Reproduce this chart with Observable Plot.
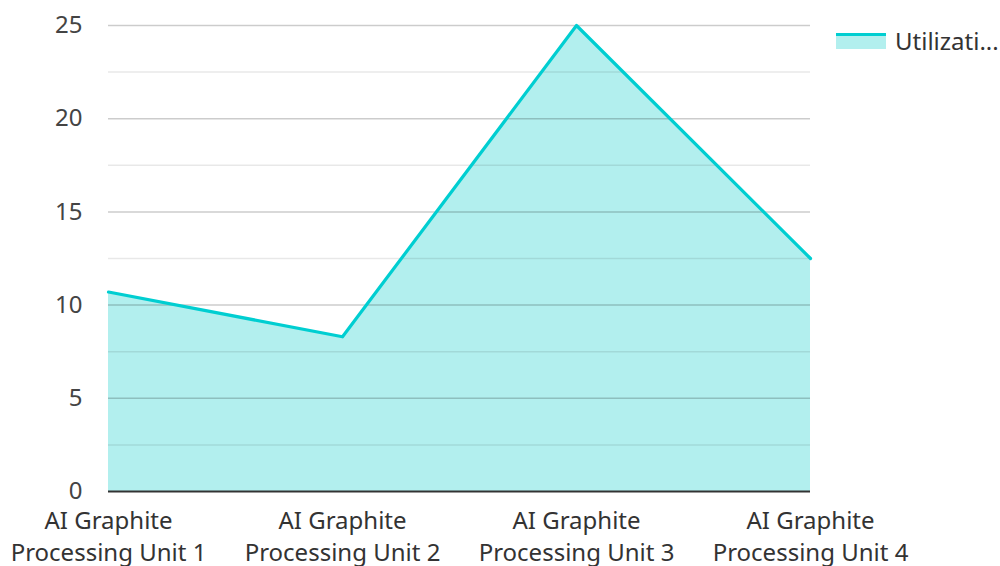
<!DOCTYPE html>
<html>
<head>
<meta charset="utf-8">
<script src="https://cdn.jsdelivr.net/npm/d3@7"></script>
<script src="https://cdn.jsdelivr.net/npm/@observablehq/plot@0.6"></script>
<style>
  html, body { margin: 0; padding: 0; background: #fff; }
  body { width: 1000px; height: 566px; overflow: hidden; position: relative; font-family: "Noto Sans", sans-serif; }
  #legend { position: absolute; left: 836px; top: 24px; display: flex; align-items: center; font-size: 24px; color: #333; }
  #legend .sw { width: 50px; height: 13px; background: #b2efee; border-top: 3px solid #00ced1; margin-right: 9px; }
</style>
</head>
<body>
<div id="chart"></div>
<div id="legend"><span class="sw"></span><span>Utilizati...</span></div>
<script>
const categories = ["AI Graphite\nProcessing Unit 1", "AI Graphite\nProcessing Unit 2", "AI Graphite\nProcessing Unit 3", "AI Graphite\nProcessing Unit 4"];
const utilization = [10.7, 8.3, 25, 12.5];
const majorTicks = [0, 5, 10, 15, 20, 25];
const minorTicks = [2.5, 7.5, 12.5, 17.5, 22.5];

const data = categories.map((c, i) => ({category: c, value: utilization[i]}));

const chart = Plot.plot({
  width: 1000,
  height: 566,
  marginLeft: 108,
  marginRight: 190,
  marginTop: 25,
  marginBottom: 75,
  style: {fontFamily: "Noto Sans", fontSize: "24px", color: "#333", background: "#fff"},
  x: {type: "point", domain: categories, padding: 0, label: null},
  y: {domain: [0, 25], label: null},
  marks: [
    Plot.areaY(data, {x: "category", y: "value", fill: "#b2efee"}),
    Plot.ruleY(minorTicks, {stroke: "#000", strokeOpacity: 0.09, strokeWidth: 1.5}),
    Plot.ruleY(majorTicks.filter(d => d > 0), {stroke: "#000", strokeOpacity: 0.2, strokeWidth: 1.5}),
    Plot.lineY(data, {x: "category", y: "value", stroke: "#00ced1", strokeWidth: 3.2}),
    Plot.ruleY([0], {stroke: "#333", strokeWidth: 2}),
    Plot.axisY({ticks: majorTicks, tickSize: 0, tickPadding: 26, fontSize: 24, fill: "#444"}),
    Plot.axisX({tickSize: 0, tickPadding: 15, fontSize: 24, lineHeight: 1.33, fill: "#333"})
  ]
});
document.getElementById("chart").appendChild(chart);
</script>
</body>
</html>
